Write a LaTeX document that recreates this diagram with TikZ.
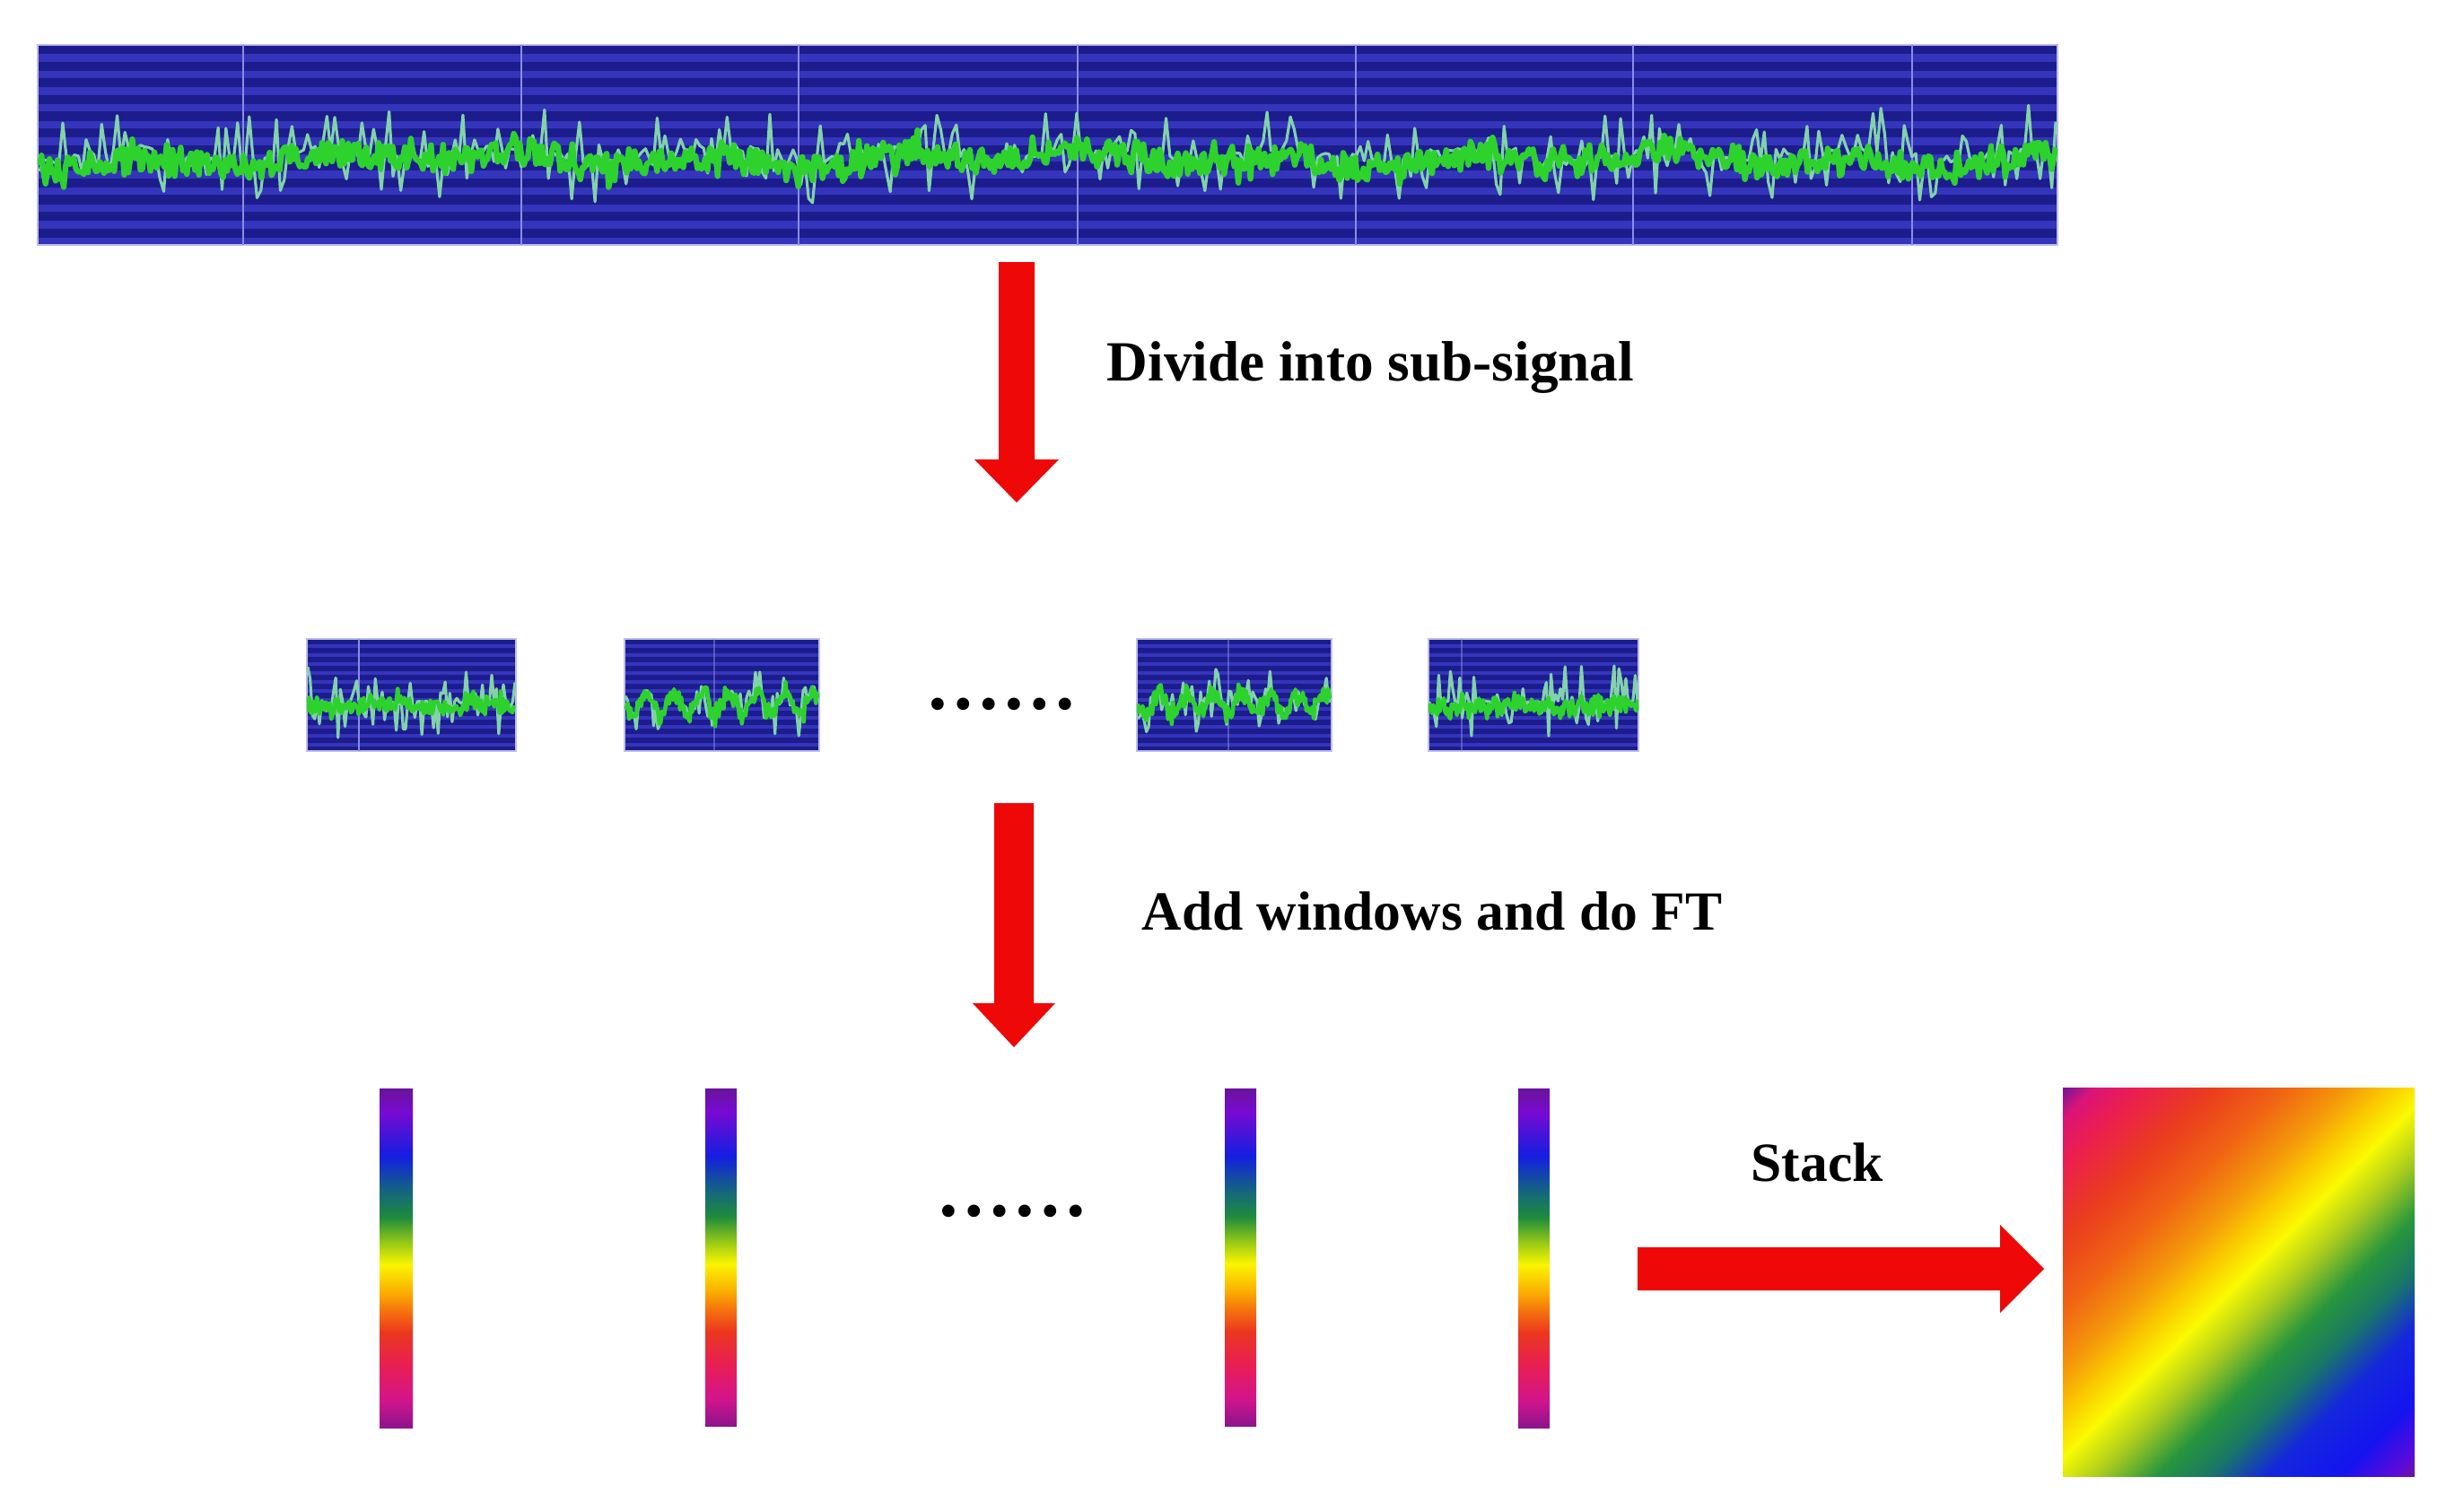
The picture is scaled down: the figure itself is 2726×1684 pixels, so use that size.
\documentclass[tikz,border=0pt]{standalone}
\usepackage{fontspec}
\setmainfont{Liberation Serif}
\usetikzlibrary{calc}

\definecolor{panelbase}{RGB}{52,52,188}
\definecolor{paneldark}{RGB}{28,28,140}
\definecolor{gridv}{RGB}{140,140,230}
\definecolor{panelframe}{RGB}{190,190,235}
\definecolor{sigG}{RGB}{45,210,45}
\definecolor{sigL}{RGB}{130,210,170}
\definecolor{arrowred}{RGB}{238,8,8}

% colour bar stops
\definecolor{rbA}{RGB}{140,20,140}
\definecolor{rbB}{RGB}{210,20,140}
\definecolor{rbC}{RGB}{232,30,85}
\definecolor{rbD}{RGB}{235,55,30}
\definecolor{rbE}{RGB}{245,110,15}
\definecolor{rbF}{RGB}{250,175,0}
\definecolor{rbG}{RGB}{250,245,0}
\definecolor{rbH}{RGB}{160,205,20}
\definecolor{rbI}{RGB}{30,140,60}
\definecolor{rbJ}{RGB}{20,100,130}
\definecolor{rbK}{RGB}{20,30,225}
\definecolor{rbL}{RGB}{120,10,210}
\definecolor{rbM}{RGB}{105,20,155}

\pgfdeclareverticalshading{rainbowbar}{100bp}{%
 color(0bp)=(rbA); color(25bp)=(rbA); color(29bp)=(rbB); color(34bp)=(rbC);
 color(39bp)=(rbD); color(42bp)=(rbE); color(45bp)=(rbF); color(49bp)=(rbG);
 color(52bp)=(rbH); color(56bp)=(rbI); color(60bp)=(rbJ); color(65bp)=(rbK);
 color(71.5bp)=(rbL); color(75bp)=(rbM); color(100bp)=(rbM)}

% square stops (s=0 top-left -> s=1 bottom-right), pos = 50 + (s-0.5)*70.71
\definecolor{sqA}{RGB}{120,20,150}
\definecolor{sqB}{RGB}{220,20,120}
\definecolor{sqC}{RGB}{235,30,80}
\definecolor{sqD}{RGB}{235,60,30}
\definecolor{sqE}{RGB}{240,100,20}
\definecolor{sqF}{RGB}{245,150,10}
\definecolor{sqG}{RGB}{250,200,0}
\definecolor{sqH}{RGB}{250,250,0}
\definecolor{sqI}{RGB}{170,205,30}
\definecolor{sqJ}{RGB}{40,150,60}
\definecolor{sqK}{RGB}{25,120,100}
\definecolor{sqL}{RGB}{20,40,220}
\definecolor{sqM}{RGB}{20,20,240}
\definecolor{sqN}{RGB}{90,10,220}
\definecolor{sqO}{RGB}{110,20,160}

\pgfdeclareverticalshading{rainbowsq}{100bp}{%
 color(0bp)=(sqA); color(14.64bp)=(sqA); color(17.47bp)=(sqB); color(21.72bp)=(sqC);
 color(28.79bp)=(sqD); color(35.86bp)=(sqE); color(41.51bp)=(sqF); color(45.76bp)=(sqG);
 color(50bp)=(sqH); color(54.95bp)=(sqI); color(60.61bp)=(sqJ); color(65.56bp)=(sqK);
 color(71.21bp)=(sqL); color(78.28bp)=(sqM); color(83.23bp)=(sqN); color(85.36bp)=(sqO);
 color(100bp)=(sqO)}

\tikzset{
  lbl/.style={font=\fontsize{17.5}{20}\selectfont\bfseries, inner sep=0pt, text=black},
  dotlbl/.style={font=\fontsize{24}{28}\selectfont\bfseries, inner sep=0pt, text=black},
  redarrow/.style={fill=arrowred},
  sigthin/.style={sigL, line width=0.9pt, line join=round},
  sigmain/.style={sigG, line width=1.8pt, line join=round},
  sigsmall/.style={sigG, line width=1.3pt, line join=round},
  gridline/.style={gridv, line width=0.6pt}
}

% vertical block arrow: start, tip, shaft half width, head half width, head length
\newcommand{\vblockarrow}[5]{%
  \fill[redarrow] ($(#1)+(-#3,0)$) -- ($(#1)+(#3,0)$) -- ($(#2)+(#3,-#5)$)
   -- ($(#2)+(#4,-#5)$) -- (#2) -- ($(#2)+(-#4,-#5)$) -- ($(#2)+(-#3,-#5)$) -- cycle;}
\newcommand{\hblockarrow}[5]{%
  \fill[redarrow] ($(#1)+(0,-#3)$) -- ($(#1)+(0,#3)$) -- ($(#2)+(-#5,#3)$)
   -- ($(#2)+(-#5,#4)$) -- (#2) -- ($(#2)+(-#5,-#4)$) -- ($(#2)+(-#5,-#3)$) -- cycle;}

\pgfmathdeclarefunction{cub}{1}{\pgfmathparse{#1*#1*#1}}

% signal panel: x1,y1,x2,y2, stripe period
\newcommand{\stripedpanel}[5]{%
  \fill[panelbase] (#1,#2) rectangle (#3,#4);
  \pgfmathsetmacro{\nst}{int(floor((#4-#2)/#5))}
  \foreach \k in {0,...,\nst}{
    \pgfmathsetmacro{\ya}{#2+#5*\k}
    \pgfmathsetmacro{\yb}{min(#2+#5*\k+#5*0.55,#4)}
    \fill[paneldark] (#1,\ya) rectangle (#3,\yb);
  }
  \draw[panelframe, line width=0.5pt] (#1,#2) rectangle (#3,#4);
}

\begin{document}
\begin{tikzpicture}[x=0.01cm, y=-0.01cm]
\useasboundingbox (0,0) rectangle (2726,1684);
\fill[white] (0,0) rectangle (2726,1684);
\pgfmathsetseed{4242}

% ---------- full signal ----------
\stripedpanel{42}{50}{2293}{273}{18.6}
\foreach \gx in {271,581,890,1201,1511,1820,2131}
  \draw[gridline] (\gx,50) -- (\gx,273);
\begin{scope}
\clip (42,50) rectangle (2293,273);
\draw[sigthin] plot[domain=44:2291, samples=520]
  (\x, {172 + 7*sin(\x*1.7) + 50*cub(rand)});
\draw[sigmain] plot[domain=44:2291, samples=1000]
  (\x, {178 + 6*sin(\x*1.7) + 4*sin(\x*0.55) + 14*rand + 14*cub(rand)});
\end{scope}

% ---------- sub-signals ----------
\stripedpanel{342}{712}{575}{837}{10}
\draw[gridline] (400,712) -- (400,837);
\begin{scope}
\clip (342,712) rectangle (575,837);
\draw[sigthin] plot[domain=343:574, samples=90] (\x, {782 + 40*cub(rand)});
\draw[sigsmall] plot[domain=343:574, samples=160] (\x, {787 + 3*sin((\x-343)*3) + 9*rand + 10*cub(rand)});
\end{scope}

\stripedpanel{696}{712}{913}{837}{10}
\draw[gridline, opacity=0.5] (796,712) -- (796,837);
\begin{scope}
\clip (696,712) rectangle (913,837);
\draw[sigthin] plot[domain=697:912, samples=90] (\x, {783 + 14*sin((\x-697)*11.6) + 26*cub(rand)});
\draw[sigsmall] plot[domain=697:912, samples=160] (\x, {784 + 12*sin((\x-697)*11.6) + 8*rand + 8*cub(rand)});
\end{scope}

\node[dotlbl, anchor=base] (dots1) at (1116,790) {……};

\stripedpanel{1267}{712}{1484}{837}{10}
\draw[gridline, opacity=0.5] (1369,712) -- (1369,837);
\begin{scope}
\clip (1267,712) rectangle (1484,837);
\draw[sigthin] plot[domain=1268:1483, samples=90] (\x, {783 + 12*sin((\x-1268)*11.6) + 26*cub(rand)});
\draw[sigsmall] plot[domain=1268:1483, samples=160] (\x, {784 + 11*sin((\x-1268)*11.6) + 8*rand + 8*cub(rand)});
\end{scope}

\stripedpanel{1592}{712}{1826}{837}{10}
\draw[gridline, opacity=0.5] (1629,712) -- (1629,837);
\begin{scope}
\clip (1592,712) rectangle (1826,837);
\draw[sigthin] plot[domain=1593:1825, samples=90] (\x, {782 + 40*cub(rand)});
\draw[sigsmall] plot[domain=1593:1825, samples=160] (\x, {787 + 3*sin((\x-1593)*3) + 9*rand + 10*cub(rand)});
\end{scope}

% ---------- arrows ----------
\coordinate (a1s) at (1133,292);
\coordinate (a1e) at (1133,560);
\vblockarrow{a1s}{a1e}{20}{47}{48}
\node[lbl, font=\fontsize{18}{20}\selectfont\bfseries, anchor=base west] (txt1) at (1233,424) {Divide into sub-signal};

\coordinate (a2s) at (1130,895);
\coordinate (a2e) at (1130,1167);
\vblockarrow{a2s}{a2e}{22}{46}{49}
\node[lbl, anchor=base west] (txt2) at (1272,1036) {Add windows and do FT};

% ---------- spectra ----------
\shade[shading=rainbowbar] (423,1213) rectangle (460,1591);
\shade[shading=rainbowbar] (786,1213) rectangle (821,1589);
\node[dotlbl, anchor=base] (dots2) at (1128,1355) {……};
\shade[shading=rainbowbar] (1365,1213) rectangle (1400,1589);
\shade[shading=rainbowbar] (1692,1213) rectangle (1727,1591);

% ---------- stack ----------
\coordinate (a3s) at (1825,1414);
\coordinate (a3e) at (2278,1414);
\hblockarrow{a3s}{a3e}{24}{49}{49}
\node[lbl, anchor=base west] (txt3) at (1951,1316) {Stack};

\shade[shading=rainbowsq, shading angle=-135] (2299,1212) rectangle (2691,1645);
\end{tikzpicture}
\end{document}
